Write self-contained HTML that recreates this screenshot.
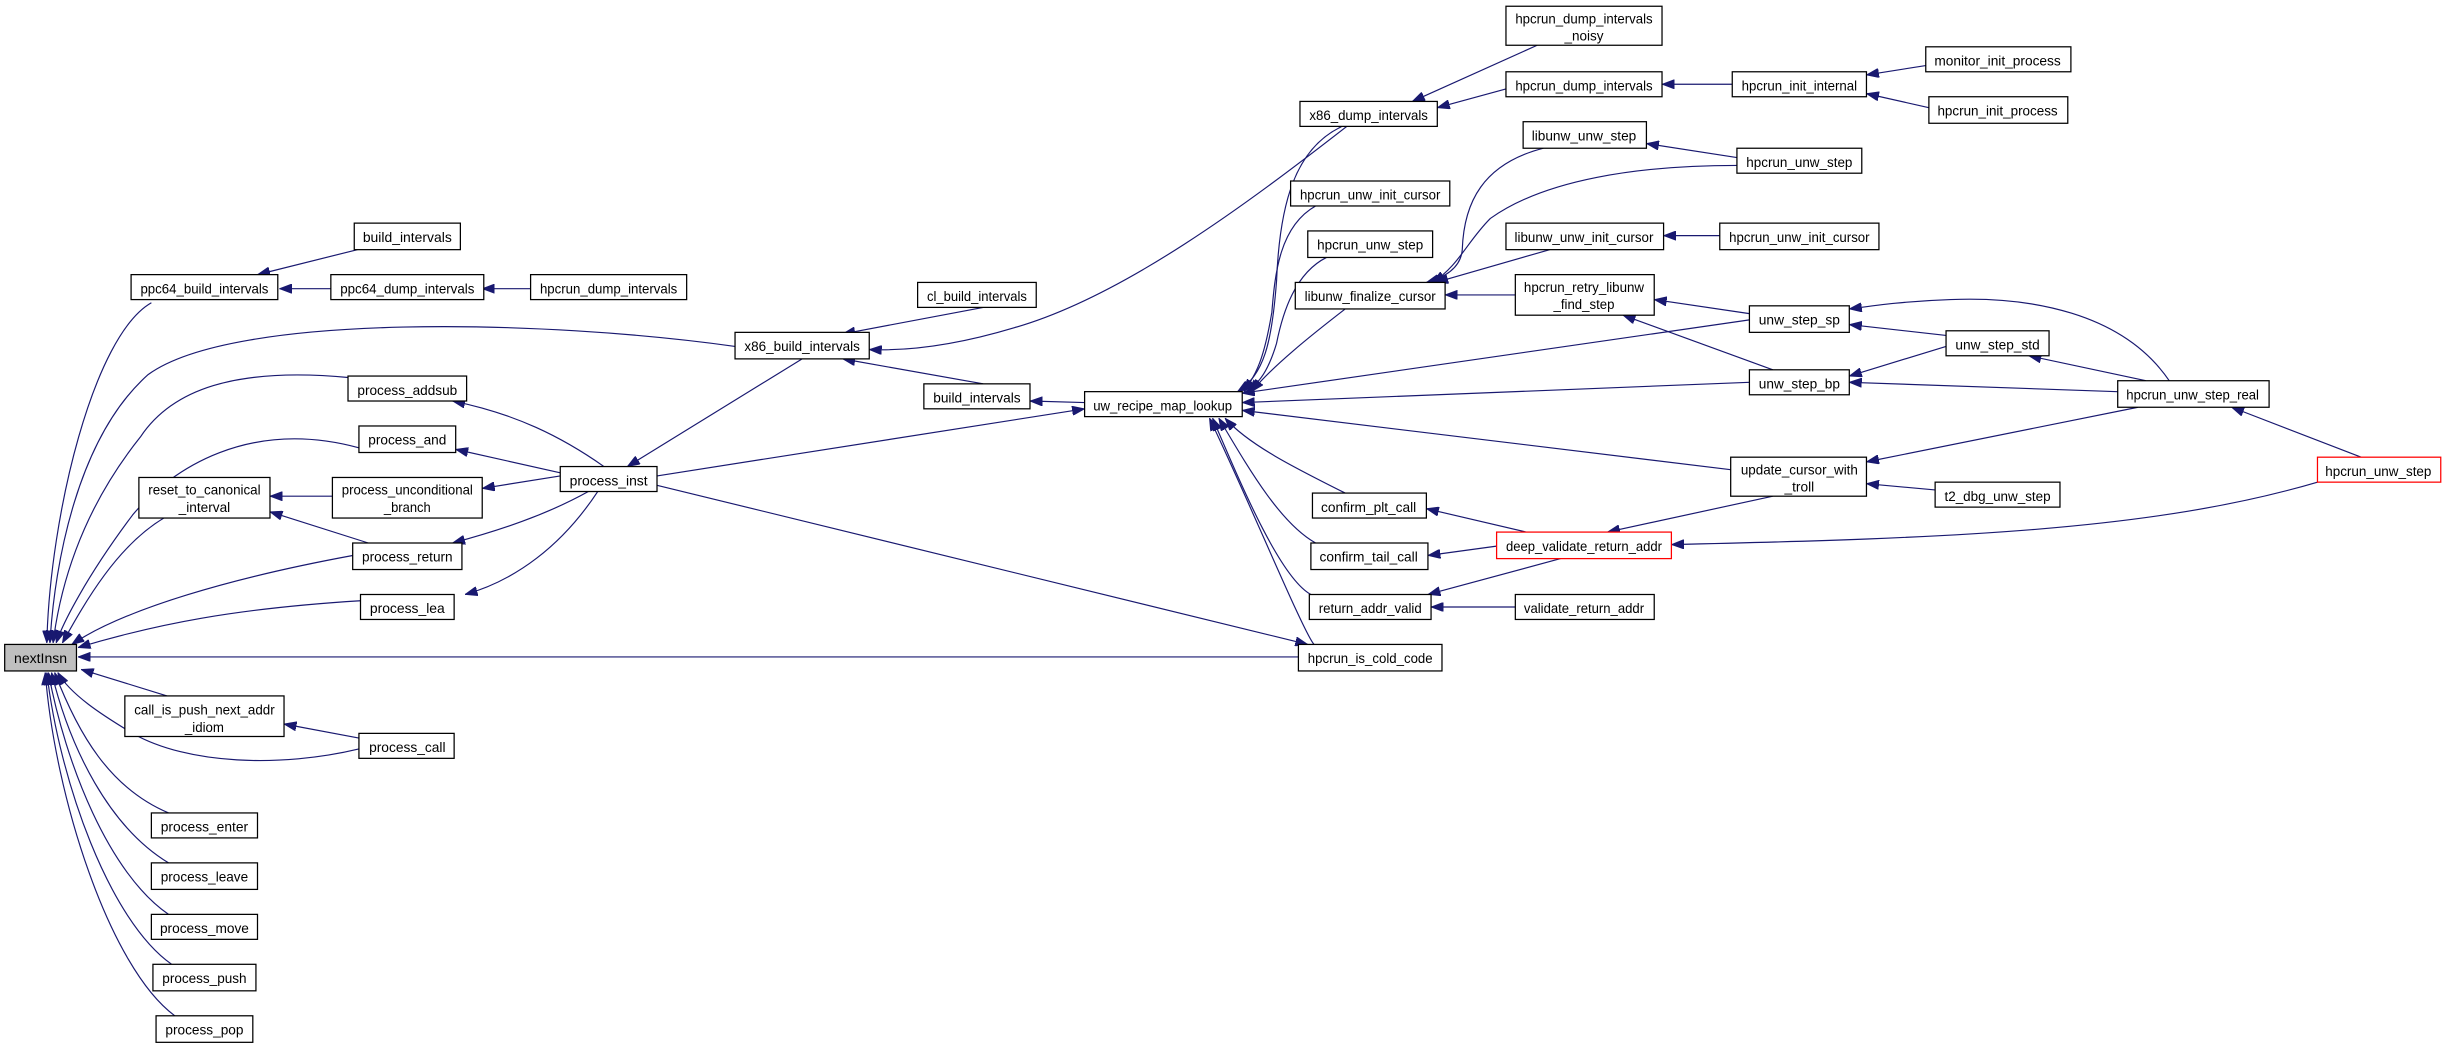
<!DOCTYPE html>
<html><head><meta charset="utf-8"><style>html,body{margin:0;padding:0;background:#fff}svg{display:block}</style></head>
<body>
<svg xmlns="http://www.w3.org/2000/svg" width="2447" height="1047" viewBox="0 0 1568 671" preserveAspectRatio="none">
<defs><marker id="a" markerUnits="userSpaceOnUse" markerWidth="8" markerHeight="6" refX="8" refY="3" orient="auto"><path d="M0,0 L8,3 L0,6 z" fill="#191970" stroke="#191970" stroke-width="0.5"/></marker></defs>
<g fill="none" stroke="#191970" stroke-width="0.75" marker-end="url(#a)">
<path d="M97,194 C60,215 32,330 30,412"/>
<path d="M471,222 C350,205 150,200 95,240 C50,280 35,360 32,412"/>
<path d="M224,242 C150,235 110,250 90,280 C50,330 38,380 34,412"/>
<path d="M230,287 C160,268 110,300 85,330 C55,370 40,400 36,412"/>
<path d="M105,332 C75,350 55,385 40,412"/>
<path d="M226,356 C150,370 80,390 46,413"/>
<path d="M231,385 C150,390 100,400 50,415"/>
<path d="M832,421 L50,421"/>
<path d="M107,446 L52,429"/>
<path d="M230,480 C180,492 120,490 85,470 C65,458 45,445 37,431"/>
<path d="M108,521 C70,505 50,470 35,431"/>
<path d="M108,553 C70,530 45,480 33,431"/>
<path d="M108,586 C70,560 42,490 31,431"/>
<path d="M110,618 C70,590 38,500 30,431"/>
<path d="M112,651 C70,620 35,510 29,431"/>
<path d="M229,160 L165,176"/>
<path d="M213,185 L179,185"/>
<path d="M341,185 L309,185"/>
<path d="M387,299 C360,280 330,265 290,257"/>
<path d="M359,303 L292,288"/>
<path d="M359,305 L309,313"/>
<path d="M377,315 C350,330 320,340 290,348"/>
<path d="M383,315 C360,350 330,372 298,381"/>
<path d="M213,318 L173,318"/>
<path d="M236,348 L173,328"/>
<path d="M230,473 L182,464"/>
<path d="M514,230 L402,299"/>
<path d="M421,305 L695,262"/>
<path d="M421,311 L838,413"/>
<path d="M630,197 L540,214"/>
<path d="M630,246 L540,230"/>
<path d="M863,81 C800,130 720,190 650,210 C610,222 580,225 557,224"/>
<path d="M695,258 L660,257"/>
<path d="M860,81 C830,95 820,130 818,180 C815,220 810,240 793,251"/>
<path d="M843,132 C820,145 817,175 815,200 C810,230 805,240 797,251"/>
<path d="M850,165 C830,175 822,200 818,220 C812,240 806,245 800,251"/>
<path d="M862,198 C840,215 815,235 802,251"/>
<path d="M1121,205 L796,252"/>
<path d="M1121,245 L796,258"/>
<path d="M1109,301 L796,263"/>
<path d="M862,316 C830,300 800,285 785,268"/>
<path d="M843,348 C820,335 800,300 781,268"/>
<path d="M840,381 C820,370 795,310 777,268"/>
<path d="M842,413 C835,405 800,320 775,268"/>
<path d="M985,29 L905,65"/>
<path d="M965,57 L921,69"/>
<path d="M1110,54 L1065,54"/>
<path d="M1234,42 L1196,48"/>
<path d="M1236,69 L1196,60"/>
<path d="M989,95 C950,105 938,130 937,160 C936,172 925,178 914,181"/>
<path d="M1113,106 C1050,106 990,115 955,140 C940,155 935,170 918,181"/>
<path d="M1113,101 L1055,92"/>
<path d="M993,160 L920,181"/>
<path d="M1102,151 L1066,151"/>
<path d="M971,189 L926,189"/>
<path d="M1121,201 L1060,192"/>
<path d="M1136,237 L1040,202"/>
<path d="M1247,215 L1185,208"/>
<path d="M1247,222 L1185,241"/>
<path d="M1375,244 L1300,228"/>
<path d="M1390,244 C1360,200 1300,190 1250,192 C1220,193 1200,196 1185,198"/>
<path d="M1357,251 L1185,245"/>
<path d="M1370,261 L1196,296"/>
<path d="M1240,314 L1196,310"/>
<path d="M1513,293 L1430,261"/>
<path d="M1485,309 C1380,340 1250,345 1071,349"/>
<path d="M1136,318 L1030,341"/>
<path d="M978,341 L914,326"/>
<path d="M959,350 L915,356"/>
<path d="M1000,358 L915,381"/>
<path d="M971,389 L917,389"/>
</g>
<g stroke="#000" stroke-width="0.8" fill="#fff">
<rect x="3" y="413" width="46" height="17" fill="#bfbfbf"/>
<rect x="84" y="176" width="94" height="16"/>
<rect x="227" y="143" width="68" height="17"/>
<rect x="212" y="176" width="98" height="16"/>
<rect x="340" y="176" width="100" height="16"/>
<rect x="223" y="241" width="76" height="16"/>
<rect x="230" y="273" width="62" height="17"/>
<rect x="89" y="306" width="84" height="26"/>
<rect x="213" y="306" width="96" height="26"/>
<rect x="359" y="299" width="62" height="16"/>
<rect x="226" y="348" width="70" height="17"/>
<rect x="231" y="381" width="60" height="16"/>
<rect x="80" y="446" width="102" height="26"/>
<rect x="230" y="470" width="61" height="16"/>
<rect x="97" y="521" width="68" height="16"/>
<rect x="97" y="553" width="68" height="17"/>
<rect x="97" y="586" width="68" height="16"/>
<rect x="98" y="618" width="66" height="17"/>
<rect x="100" y="651" width="62" height="17"/>
<rect x="471" y="213" width="86" height="17"/>
<rect x="588" y="181" width="76" height="16"/>
<rect x="592" y="246" width="68" height="16"/>
<rect x="695" y="251" width="101" height="16"/>
<rect x="833" y="65" width="88" height="16"/>
<rect x="965" y="4" width="100" height="25"/>
<rect x="965" y="46" width="100" height="16"/>
<rect x="1110" y="46" width="86" height="16"/>
<rect x="1234" y="30" width="93" height="16"/>
<rect x="1236" y="62" width="89" height="17"/>
<rect x="976" y="78" width="79" height="17"/>
<rect x="1113" y="95" width="80" height="16"/>
<rect x="827" y="116" width="102" height="16"/>
<rect x="838" y="148" width="80" height="17"/>
<rect x="830" y="181" width="96" height="17"/>
<rect x="965" y="143" width="101" height="17"/>
<rect x="1102" y="143" width="102" height="17"/>
<rect x="971" y="176" width="89" height="26"/>
<rect x="1121" y="196" width="64" height="17"/>
<rect x="1247" y="212" width="66" height="16"/>
<rect x="1121" y="237" width="64" height="16"/>
<rect x="1109" y="293" width="87" height="25"/>
<rect x="1240" y="309" width="80" height="16"/>
<rect x="1357" y="244" width="97" height="17"/>
<rect x="1485" y="293" width="79" height="16" stroke="#f00"/>
<rect x="959" y="341" width="112" height="17" stroke="#f00"/>
<rect x="971" y="381" width="89" height="16"/>
<rect x="841" y="316" width="73" height="16"/>
<rect x="840" y="348" width="75" height="17"/>
<rect x="839" y="381" width="78" height="16"/>
<rect x="832" y="413" width="92" height="17"/>
</g>
<g font-family="'Liberation Sans', Helvetica, sans-serif" font-size="9" fill="#000" text-anchor="middle">
<text x="26" y="425" textLength="34" lengthAdjust="spacingAndGlyphs">nextInsn</text>
<text x="131" y="188" textLength="82" lengthAdjust="spacingAndGlyphs">ppc64_build_intervals</text>
<text x="261" y="155" textLength="57" lengthAdjust="spacingAndGlyphs">build_intervals</text>
<text x="261" y="188" textLength="86" lengthAdjust="spacingAndGlyphs">ppc64_dump_intervals</text>
<text x="390" y="188" textLength="88" lengthAdjust="spacingAndGlyphs">hpcrun_dump_intervals</text>
<text x="261" y="253" textLength="64" lengthAdjust="spacingAndGlyphs">process_addsub</text>
<text x="261" y="285" textLength="50" lengthAdjust="spacingAndGlyphs">process_and</text>
<text x="131" y="317" textLength="72" lengthAdjust="spacingAndGlyphs">reset_to_canonical</text>
<text x="131" y="328" textLength="33" lengthAdjust="spacingAndGlyphs">_interval</text>
<text x="261" y="317" textLength="84" lengthAdjust="spacingAndGlyphs">process_unconditional</text>
<text x="261" y="328" textLength="30" lengthAdjust="spacingAndGlyphs">_branch</text>
<text x="390" y="311" textLength="50" lengthAdjust="spacingAndGlyphs">process_inst</text>
<text x="261" y="360" textLength="58" lengthAdjust="spacingAndGlyphs">process_return</text>
<text x="261" y="393" textLength="48" lengthAdjust="spacingAndGlyphs">process_lea</text>
<text x="131" y="458" textLength="90" lengthAdjust="spacingAndGlyphs">call_is_push_next_addr</text>
<text x="131" y="469" textLength="25" lengthAdjust="spacingAndGlyphs">_idiom</text>
<text x="261" y="482" textLength="49" lengthAdjust="spacingAndGlyphs">process_call</text>
<text x="131" y="533" textLength="56" lengthAdjust="spacingAndGlyphs">process_enter</text>
<text x="131" y="565" textLength="56" lengthAdjust="spacingAndGlyphs">process_leave</text>
<text x="131" y="598" textLength="57" lengthAdjust="spacingAndGlyphs">process_move</text>
<text x="131" y="630" textLength="54" lengthAdjust="spacingAndGlyphs">process_push</text>
<text x="131" y="663" textLength="50" lengthAdjust="spacingAndGlyphs">process_pop</text>
<text x="514" y="225" textLength="74" lengthAdjust="spacingAndGlyphs">x86_build_intervals</text>
<text x="626" y="193" textLength="64" lengthAdjust="spacingAndGlyphs">cl_build_intervals</text>
<text x="626" y="258" textLength="56" lengthAdjust="spacingAndGlyphs">build_intervals</text>
<text x="745" y="263" textLength="89" lengthAdjust="spacingAndGlyphs">uw_recipe_map_lookup</text>
<text x="877" y="77" textLength="76" lengthAdjust="spacingAndGlyphs">x86_dump_intervals</text>
<text x="1015" y="15" textLength="88" lengthAdjust="spacingAndGlyphs">hpcrun_dump_intervals</text>
<text x="1015" y="26" textLength="25" lengthAdjust="spacingAndGlyphs">_noisy</text>
<text x="1015" y="58" textLength="88" lengthAdjust="spacingAndGlyphs">hpcrun_dump_intervals</text>
<text x="1153" y="58" textLength="74" lengthAdjust="spacingAndGlyphs">hpcrun_init_internal</text>
<text x="1280" y="42" textLength="81" lengthAdjust="spacingAndGlyphs">monitor_init_process</text>
<text x="1280" y="74" textLength="77" lengthAdjust="spacingAndGlyphs">hpcrun_init_process</text>
<text x="1015" y="90" textLength="67" lengthAdjust="spacingAndGlyphs">libunw_unw_step</text>
<text x="1153" y="107" textLength="68" lengthAdjust="spacingAndGlyphs">hpcrun_unw_step</text>
<text x="878" y="128" textLength="90" lengthAdjust="spacingAndGlyphs">hpcrun_unw_init_cursor</text>
<text x="878" y="160" textLength="68" lengthAdjust="spacingAndGlyphs">hpcrun_unw_step</text>
<text x="878" y="193" textLength="84" lengthAdjust="spacingAndGlyphs">libunw_finalize_cursor</text>
<text x="1015" y="155" textLength="89" lengthAdjust="spacingAndGlyphs">libunw_unw_init_cursor</text>
<text x="1153" y="155" textLength="90" lengthAdjust="spacingAndGlyphs">hpcrun_unw_init_cursor</text>
<text x="1015" y="187" textLength="77" lengthAdjust="spacingAndGlyphs">hpcrun_retry_libunw</text>
<text x="1015" y="198" textLength="39" lengthAdjust="spacingAndGlyphs">_find_step</text>
<text x="1153" y="208" textLength="52" lengthAdjust="spacingAndGlyphs">unw_step_sp</text>
<text x="1280" y="224" textLength="54" lengthAdjust="spacingAndGlyphs">unw_step_std</text>
<text x="1153" y="249" textLength="52" lengthAdjust="spacingAndGlyphs">unw_step_bp</text>
<text x="1153" y="304" textLength="75" lengthAdjust="spacingAndGlyphs">update_cursor_with</text>
<text x="1153" y="315" textLength="19" lengthAdjust="spacingAndGlyphs">_troll</text>
<text x="1280" y="321" textLength="68" lengthAdjust="spacingAndGlyphs">t2_dbg_unw_step</text>
<text x="1405" y="256" textLength="85" lengthAdjust="spacingAndGlyphs">hpcrun_unw_step_real</text>
<text x="1524" y="305" textLength="68" lengthAdjust="spacingAndGlyphs">hpcrun_unw_step</text>
<text x="1015" y="353" textLength="100" lengthAdjust="spacingAndGlyphs">deep_validate_return_addr</text>
<text x="1015" y="393" textLength="77" lengthAdjust="spacingAndGlyphs">validate_return_addr</text>
<text x="877" y="328" textLength="61" lengthAdjust="spacingAndGlyphs">confirm_plt_call</text>
<text x="877" y="360" textLength="63" lengthAdjust="spacingAndGlyphs">confirm_tail_call</text>
<text x="878" y="393" textLength="66" lengthAdjust="spacingAndGlyphs">return_addr_valid</text>
<text x="878" y="425" textLength="80" lengthAdjust="spacingAndGlyphs">hpcrun_is_cold_code</text>
</g>
</svg>
</body></html>
